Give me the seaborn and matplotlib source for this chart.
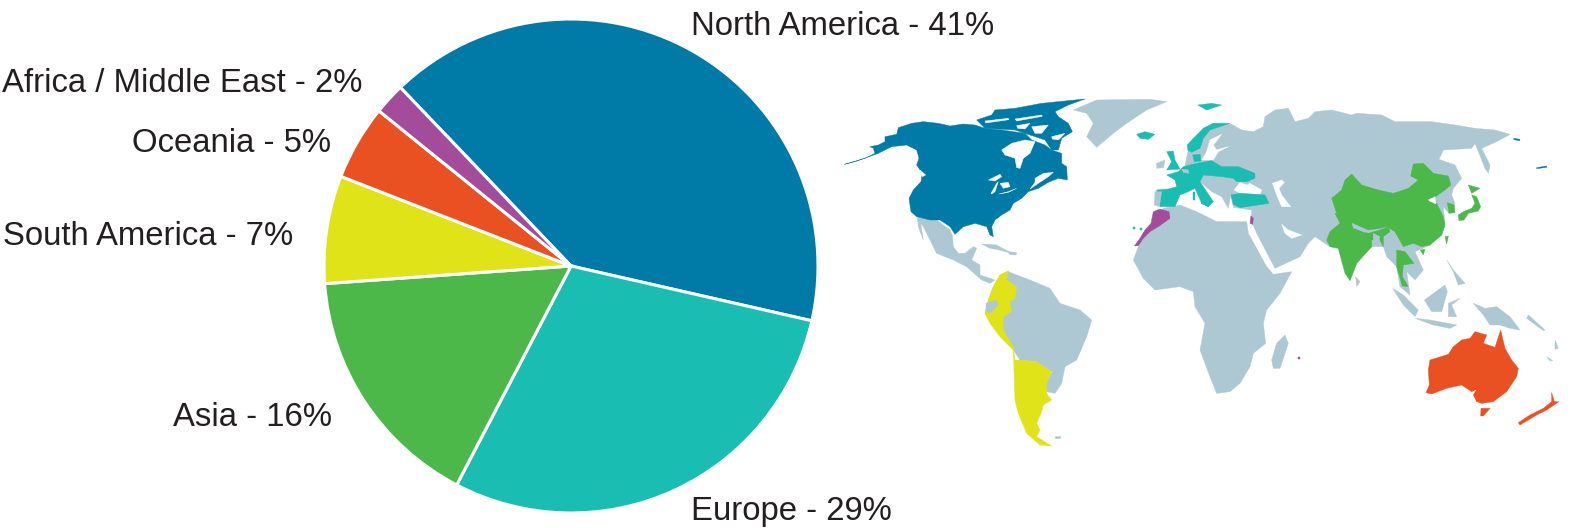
import matplotlib
matplotlib.use("Agg")
import matplotlib.pyplot as plt
import seaborn as sns

W, H = 1575, 528

# pie values, labels as printed
regions = ["North America", "Europe", "Asia", "South America", "Oceania", "Africa / Middle East"]
shares = [40.7, 29.1, 16.2, 7.05, 4.9, 2.05]
printed = [41, 29, 16, 7, 5, 2]
colors = ["#007aa6", "#19bdb2", "#4cb849", "#dfe318", "#ea5122", "#a44c9c"]
land = "#aec8d3"
label_x = [691, 691, 173, 3, 132, 2]
label_y = [35, 520, 426, 245, 152, 92]

# map outlines, each list in 3x crop coordinates of its region
na_origin = (835, 95)
alaska_canada_us = [(28,208),(90,190),(120,175),(115,160),(105,155),(130,150),(150,140),(150,125),(185,118),(190,98),
                    (230,85),(265,80),(310,85),(345,93),(385,87),(420,90),(450,100),(500,105),(570,115),(590,135),
                    (630,150),(650,165),(680,175),(680,205),(695,215),(697,255),(670,250),(640,262),(610,280),
                    (580,290),(560,310),(535,325),(525,345),(500,360),(480,375),(470,395),(475,425),(465,420),
                    (455,395),(420,385),(385,395),(360,418),(345,395),(315,375),(285,375),(245,365),(228,350),
                    (222,310),(235,285),(258,260),(262,235),(245,210),(252,190),(245,165),(215,150),(170,155),
                    (130,175),(60,200)]
arctic = [(425,75),(470,60),(480,45),(540,40),(620,25),(750,12),(700,30),(660,50),(670,65),(700,85),(712,110),
          (680,130),(670,165),(650,165),(630,135),(600,125),(570,115),(540,105),(450,100)]
hudson = [(500,165),(530,145),(570,135),(600,140),(585,175),(565,190),(555,220),(545,218),(540,190),(510,180)]
foxe = [(590,95),(640,90),(620,115),(600,115)]
channel_a = [(450,78),(520,70),(522,74),(452,84)]
channel_b = [(540,72),(620,60),(622,64),(545,78)]
channel_c = [(545,92),(585,85),(570,102),(548,100)]
channel_d = [(650,125),(690,115),(670,135),(652,132)]
superior = [(460,255),(495,238),(500,245),(480,258)]
michigan = [(468,295),(485,265),(490,260),(480,290),(470,297)]
huron = [(495,265),(520,262),(525,275),(505,280)]
erie = [(492,297),(520,290),(545,280),(520,292)]
st_lawrence = [(600,250),(625,235),(655,232),(640,245),(610,265),(585,282),(600,262)]
puget = [(255,225),(272,240),(262,245)]

sa_origin = (830, 90)
greenland = [(730,60),(800,30),(960,28),(1010,35),(950,60),(890,100),(850,130),(800,172),(770,140),(790,100),(770,70)]
mexico = [(262,382),(320,390),(340,405),(360,420),(368,440),(370,470),(385,490),(405,490),(430,470),(440,475),
          (425,510),(450,525),(450,555),(495,570),(480,580),(455,570),(410,530),(370,510),(320,490),(305,460),
          (280,410),(272,400),(280,450),(265,410)]
cuba = [(455,462),(500,465),(545,490),(500,478),(480,475)]
hispaniola = [(535,485),(560,488),(558,495),(538,493)]
falklands = [(675,1040),(693,1040),(690,1046),(677,1046)]
south_america = [(535,545),(600,570),(660,595),(690,640),(750,660),(785,690),(770,740),(740,810),(705,830),
                 (695,880),(675,910),(650,905),(645,880),(668,845),(650,840),(620,815),(570,810),(550,780),
                 (520,720),(465,670),(475,630),(490,590),(510,555)]
andes = [(535,542),(530,570),(560,590),(555,625),(540,635),(545,665),(520,680),(520,720),(550,770),(555,810),
         (570,810),(620,815),(665,845),(650,880),(650,910),(665,930),(640,945),(635,965),(620,1000),(630,1020),
         (620,1040),(665,1068),(630,1065),(590,1030),(565,970),(555,930),(550,780),(510,740),(480,700),(465,670),
         (475,630),(490,590),(510,555)]
ecuador = [(468,640),(500,630),(505,645),(480,670),(468,660)]

eu_origin = (1125, 95)
iceland = [(35,118),(60,110),(90,118),(70,133),(45,130)]
svalbard = [(218,30),(260,25),(290,30),(245,45)]
norway = [(187,150),(205,130),(235,100),(265,85),(315,85),(285,95),(255,105),(235,130),(225,160),(200,172),(188,165)]
britain = [(125,170),(145,168),(150,195),(165,222),(125,225),(140,200)]
ireland = [(95,205),(120,195),(115,218),(95,220)]
denmark = [(203,180),(225,178),(228,198),(208,200)]
west_europe = [(95,285),(130,282),(155,275),(150,255),(125,240),(160,230),(175,215),(215,205),(260,197),(290,215),
               (340,215),(390,235),(390,250),(365,260),(335,260),(325,250),(290,245),(235,240),(225,260),(245,290),
               (265,320),(250,335),(230,325),(210,280),(190,290),(165,300),(150,335),(105,335),(100,310)]
belgium = [(170,222),(190,225),(192,235),(175,232)]
portugal = [(90,290),(110,290),(103,335),(88,330)]
sardinia = [(203,290),(210,290),(210,315),(203,315)]
sicily = [(228,325),(255,322),(250,335)]
turkey = [(318,300),(345,295),(395,298),(420,300),(432,325),(345,338),(325,328)]
morocco = [(28,453),(45,430),(60,405),(78,385),(85,350),(105,342),(132,350),(135,370),(100,395),(75,410),(55,430),(40,452)]
israel = [(378,362),(385,370),(383,388),(375,385)]
black_sea = [(327,285),(345,262),(365,270),(375,265),(410,285),(405,298),(345,295)]
caspian = [(442,265),(470,255),(478,262),(462,280),(470,300),(497,335),(470,335),(455,300)]
baltic = [(255,135),(290,118),(265,150),(275,165),(310,155),(280,170),(265,195),(230,195),(245,170)]
gulf = [(470,388),(490,405),(530,420),(500,430),(480,415)]
canary_a = [(25,397),(31,397),(31,403),(25,403)]
canary_b = [(45,398),(52,398),(52,404),(45,404)]

asia_origin = (1100, 90)
africa = [(100,510),(130,430),(160,400),(190,355),(240,345),(290,365),(350,395),(440,395),(445,430),(500,530),
          (520,553),(575,545),(540,610),(500,660),(490,700),(497,760),(460,790),(450,830),(420,880),(390,905),
          (350,910),(330,860),(300,780),(315,700),(285,650),(280,605),(240,590),(165,600),(130,565)]
madagascar = [(555,735),(565,760),(540,835),(520,835),(515,810),(530,760)]
mauritius = [(594,800),(601,800),(601,806),(594,806)]
eurasia = [(265,180),(310,115),(340,100),(395,103),(425,120),(460,125),(490,110),(495,80),(525,60),(565,55),(585,95),
           (625,85),(645,65),(695,60),(755,75),(770,70),(845,75),(885,95),(945,95),(995,95),(1065,105),(1125,115),
           (1185,120),(1230,133),(1190,155),(1145,175),(1170,225),(1165,250),(1155,235),(1125,160),(1115,175),
           (1030,180),(1017,208),(1065,225),(1085,265),(1060,295),(1055,315),(1065,340),(1047,370),(1030,350),
           (1035,405),(1025,435),(990,465),(945,485),(970,540),(945,570),(920,545),(930,615),(900,590),(890,530),
           (860,500),(850,470),(815,470),(770,520),(750,572),(715,475),(690,470),(645,440),(625,460),(600,500),
           (525,535),(470,430),(455,395),(455,360),(400,352),(392,315),(385,355),(365,320),(335,305),(300,275),(250,250)]

east_origin = (1315, 100)
china = [(50,295),(80,270),(90,240),(110,222),(140,255),(190,270),(235,280),(280,265),(310,240),(287,228),(295,192),
         (325,190),(355,220),(400,228),(408,255),(390,270),(355,295),(340,305),(365,310),(385,350),(390,375),(380,405),
         (345,435),(320,440),(295,430),(265,440),(240,395),(215,380),(195,385),(160,390),(110,370),(65,340),(55,310)]
bohai = [(340,300),(360,290),(362,312)]
india = [(60,340),(85,345),(110,370),(115,385),(160,400),(195,390),(220,380),(225,395),(205,410),(205,440),(195,420),
         (170,420),(170,440),(125,490),(105,542),(90,520),(70,445),(45,440),(35,420),(45,395),(75,370)]
nepal = [(112,370),(155,390),(150,397),(115,383)]
bangladesh = [(175,400),(195,410),(190,430),(175,420)]
thailand = [(245,450),(270,455),(297,490),(265,495),(262,530),(280,560),(262,558),(245,500)]
south_korea = [(397,308),(418,315),(420,338),(402,340)]
honshu = [(430,345),(445,335),(470,325),(480,310),(470,285),(485,290),(497,320),(490,333),(460,340),(447,360),(432,362)]
hokkaido = [(460,255),(495,265),(470,280)]
taiwan = [(390,410),(400,408),(395,432)]
hainan = [(316,450),(330,448),(325,465)]
sri_lanka = [(122,530),(135,545),(125,560)]
aleutian_a = [(596,115),(615,118),(614,122),(597,119)]
aleutian_b = [(665,203),(695,198),(695,202),(665,206)]

pacific_origin = (1370, 260)
sumatra = [(68,85),(100,105),(145,150),(135,170),(100,135)]
java = [(135,175),(180,180),(260,195),(240,205),(190,195)]
borneo = [(163,120),(225,75),(232,95),(215,155),(185,155)]
sulawesi = [(235,130),(270,115),(245,135),(260,170),(235,170)]
new_guinea = [(310,130),(345,145),(380,140),(420,170),(450,210),(420,205),(390,195),(360,195),(340,165)]
philippines = [(230,0),(250,30),(285,70),(265,75),(250,35)]
solomons = [(475,165),(525,210),(520,212),(470,175)]
new_caledonia = [(530,290),(548,302),(540,303)]
vanuatu = [(555,240),(565,265),(555,268)]
australia = [(168,398),(178,375),(175,330),(180,300),(235,283),(250,260),(275,240),(300,235),(315,215),(350,225),
             (340,250),(375,262),(392,210),(405,265),(425,300),(445,325),(440,350),(410,395),(370,425),(335,430),
             (320,425),(305,395),(275,375),(230,385),(185,402)]
spencer = [(300,400),(318,390),(305,410)]
tasmania = [(333,445),(360,445),(340,468),(332,468)]
new_zealand = [(545,398),(553,425),(567,425),(530,450),(500,465),(450,495),(445,488),(480,465),(520,445),(545,425)]

sns.set_theme(style="white")
plt.rcParams["font.family"] = ["Liberation Sans", "DejaVu Sans"]
palette = sns.color_palette(colors)
blue, teal, green, yellow, orange, purple = palette
fig = plt.figure(figsize=(W / 100, H / 100), dpi=100)

# pie
pie_ax = fig.add_axes([324 / W, 1 - 513 / H, 494 / W, 494 / H])
pie_ax.pie(shares, colors=palette, startangle=133.7, counterclock=False,
           wedgeprops={"edgecolor": "white", "linewidth": 2.2})
pie_ax.set_xlim(-1, 1)
pie_ax.set_ylim(-1, 1)

# labels and map on a full figure axes in picture pixels
ax = fig.add_axes([0, 0, 1, 1], facecolor="none")
ax.set_xlim(0, W)
ax.set_ylim(H, 0)
ax.axis("off")


def draw(origin, shapes):
    for pts, c in shapes:
        ax.fill([origin[0] + x / 3 for x, y in pts], [origin[1] + y / 3 for x, y in pts],
                color=c, lw=0.3, zorder=2)


draw(sa_origin, [(greenland, land), (mexico, land), (cuba, land), (hispaniola, land), (falklands, land),
                 (south_america, land), (andes, yellow), (ecuador, land)])
draw(na_origin, [(alaska_canada_us, blue), (arctic, blue), (hudson, "white"), (foxe, "white"),
                 (channel_a, "white"), (channel_b, "white"), (channel_c, "white"), (channel_d, "white"),
                 (superior, "white"), (michigan, "white"), (huron, "white"), (erie, "white"),
                 (st_lawrence, "white"), (puget, "white")])
draw(asia_origin, [(africa, land), (madagascar, land), (eurasia, land), (mauritius, purple)])
draw(eu_origin, [(black_sea, "white"), (caspian, "white"), (baltic, "white"), (gulf, "white"),
                 (iceland, teal), (svalbard, teal), (norway, teal), (britain, teal), (ireland, land),
                 (denmark, teal), (west_europe, teal), (belgium, land), (portugal, land), (sardinia, teal),
                 (sicily, teal), (turkey, teal), (morocco, purple), (israel, purple), (canary_a, teal), (canary_b, teal)])
draw(east_origin, [(china, green), (bohai, "white"), (india, green), (nepal, land), (bangladesh, land),
                   (thailand, green), (south_korea, green), (honshu, green), (hokkaido, green), (taiwan, green),
                   (hainan, green), (sri_lanka, land), (aleutian_a, blue), (aleutian_b, blue)])
draw(pacific_origin, [(sumatra, land), (java, land), (borneo, land), (sulawesi, land), (new_guinea, land),
                      (philippines, land), (solomons, land), (new_caledonia, land), (vanuatu, land),
                      (australia, orange), (spencer, "white"), (tasmania, orange), (new_zealand, orange)])

for name, pct, x, y in zip(regions, printed, label_x, label_y):
    ax.text(x, y, f"{name} - {pct}%", fontsize=23.7, color="#231f20", va="baseline", ha="left", zorder=5)

fig.savefig("out.png", dpi=100)
